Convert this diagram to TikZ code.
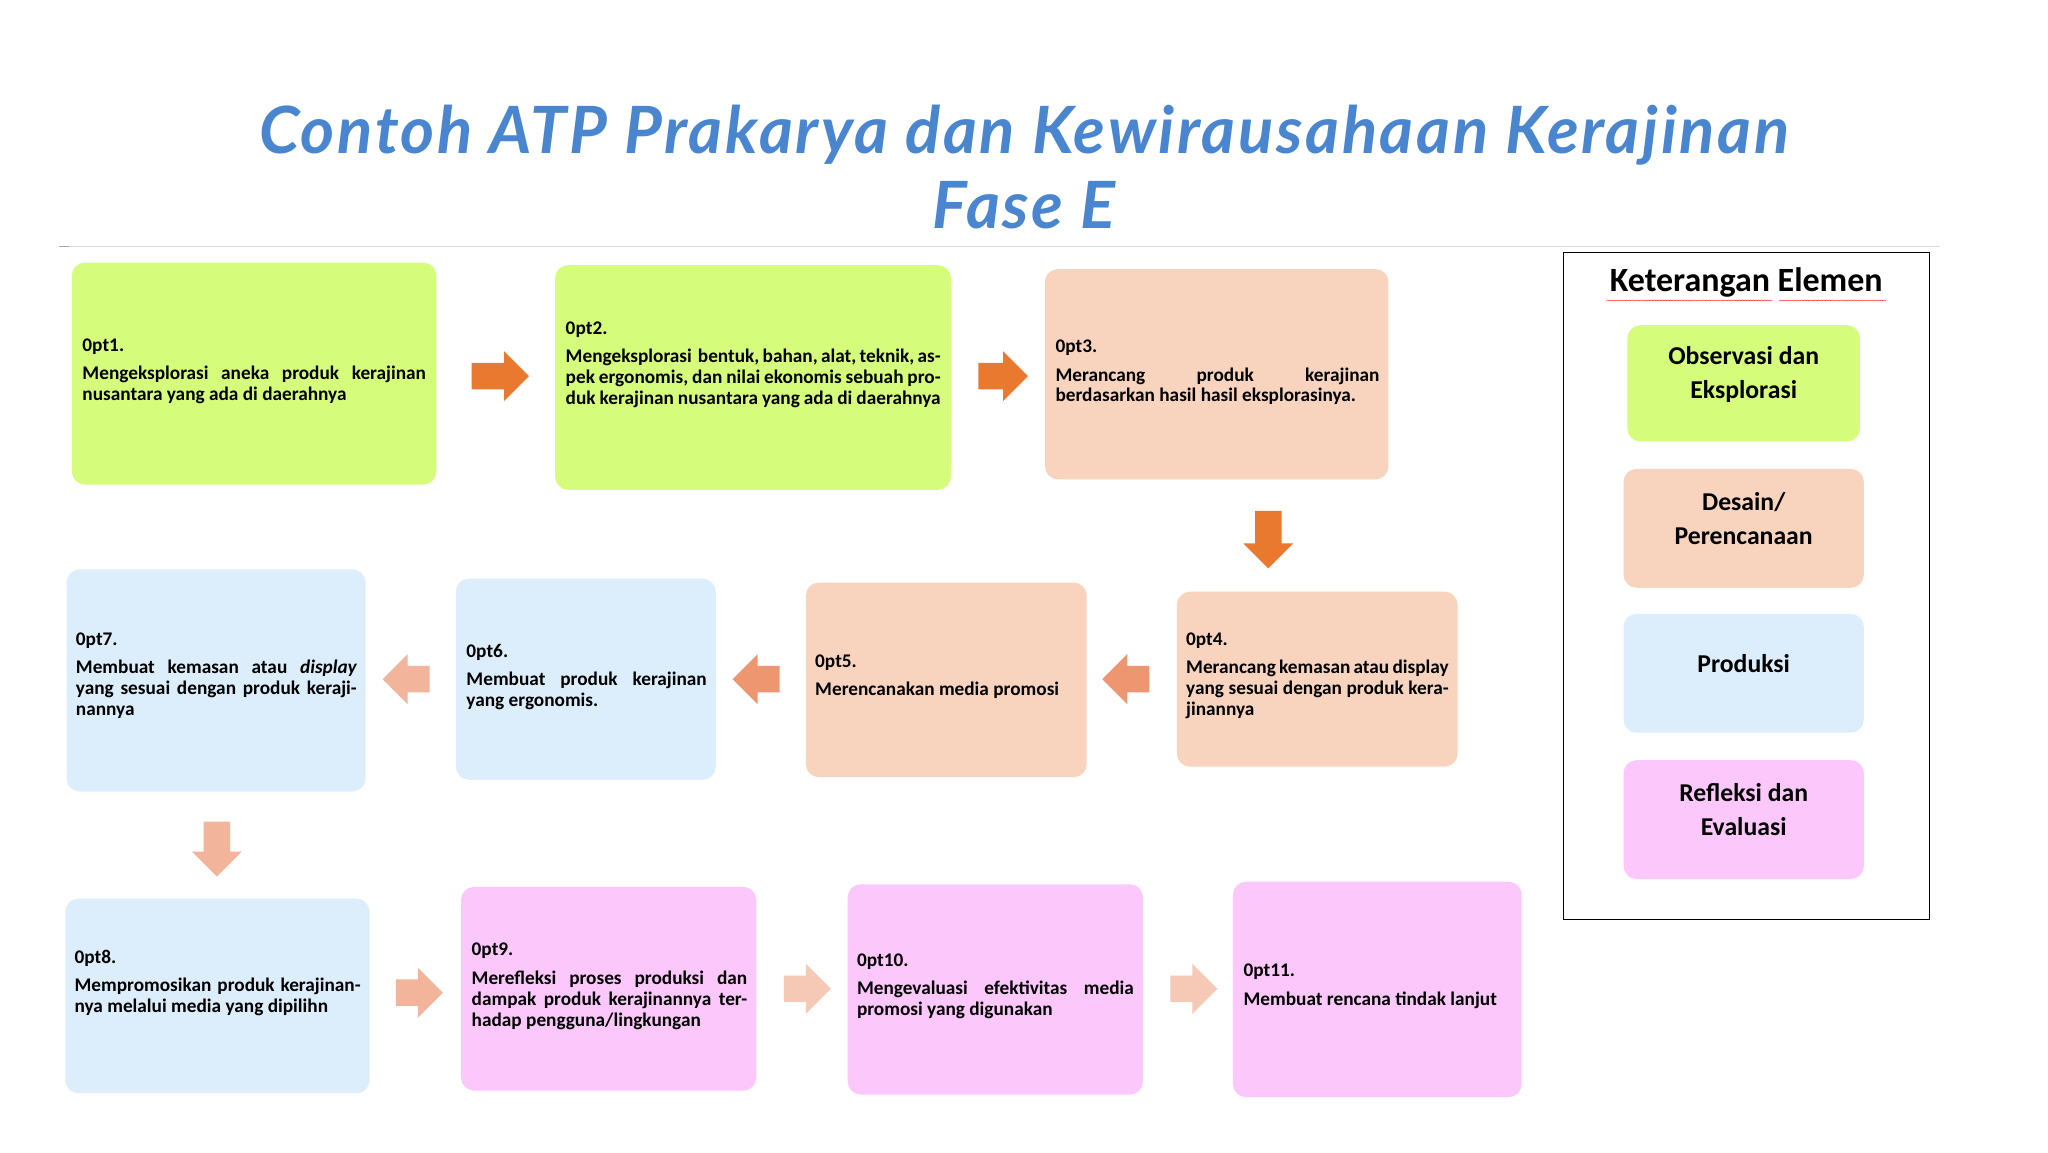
\documentclass[tikz,border=0pt]{standalone}
\usepackage{fontspec}
\setmainfont{Carlito}
\newfontfamily\tfont[LetterSpace=4]{Lato}
\usetikzlibrary{shapes.arrows,decorations.pathmorphing}
\definecolor{cgreen}{HTML}{D6FC7C}
\definecolor{cpeach}{HTML}{F8D4BE}
\definecolor{cblue}{HTML}{DCEEFC}
\definecolor{cpink}{HTML}{FCC8FB}
\definecolor{ctitle}{HTML}{4A86D0}
\definecolor{aone}{HTML}{E8792F}
\definecolor{atwo}{HTML}{EE9670}
\definecolor{athree}{HTML}{F2B49A}
\definecolor{afour}{HTML}{F6C8B6}
\tikzset{
 box/.style={rounded corners=0.5cm},
 btxt/.style={anchor=north west,align=justify,inner sep=0pt,font=\fontsize{21}{22.7}\selectfont\bfseries\hyphenpenalty=10000\exhyphenpenalty=10000},
 leg/.style={rounded corners=0.5cm},
 legtxt/.style={align=center,font=\fontsize{28}{37}\selectfont\bfseries},
 arr/.style={single arrow,draw=none,inner sep=0.5cm,minimum height=2.2cm,single arrow head extend=0.45cm,single arrow tip angle=90}
}
\begin{document}
\begin{tikzpicture}[x=0.05cm,y=-0.05cm]
\useasboundingbox[fill=white] (0,0) rectangle (1568,882);
\node[font=\tfont\fontsize{71}{82}\selectfont\bfseries\itshape,text=ctitle,align=center] (title) at (784,128) {Contoh ATP Prakarya dan Kewirausahaan Kerajinan\\Fase E};
\draw[gray!30,line width=1pt] (45,189) -- (1485,189);
\draw[gray!70,line width=1pt] (45,189) -- (53,189);
% boxes
\fill[box,cgreen] (55,201) rectangle (334,371);
\node (b1) at (194,286) {};
\fill[box,cgreen] (425,203) rectangle (728,375);
\node (b2) at (576,289) {};
\fill[box,cpeach] (800,206) rectangle (1063,367);
\node (b3) at (931,286) {};
\fill[box,cpeach] (901,453) rectangle (1116,587);
\node (b4) at (1008,520) {};
\fill[box,cpeach] (617,446) rectangle (832,595);
\node (b5) at (724,520) {};
\fill[box,cblue] (349,443) rectangle (548,597);
\node (b6) at (448,520) {};
\fill[box,cblue] (51,436) rectangle (280,606);
\node (b7) at (165,521) {};
\fill[box,cblue] (50,688) rectangle (283,837);
\node (b8) at (166,762) {};
\fill[box,cpink] (353,679) rectangle (579,835);
\node (b9) at (466,757) {};
\fill[box,cpink] (649,677) rectangle (875,838);
\node (b10) at (762,757) {};
\fill[box,cpink] (944,675) rectangle (1165,840);
\node (b11) at (1054,757) {};
% texts
\node[btxt,text width=263*0.05cm] (t1) at (63,259) {1.\\[0.3cm]Mengeksplorasi aneka produk kerajinan nusantara yang ada di daerahnya};
\node[btxt,text width=287*0.05cm] (t2) at (433,246) {2.\\[0.3cm]Mengeksplorasi\ \ bentuk, bahan, alat, teknik, aspek ergonomis, dan nilai ekonomis sebuah produk kerajinan nusantara yang ada di daerahnya};
\node[btxt,text width=248*0.05cm] (t3) at (808,260) {3.\\[0.3cm]Merancang produk kerajinan berdasarkan hasil hasil eksplorasinya.};
\node[btxt,text width=201*0.05cm] (t4) at (908,484) {4.\\[0.3cm]Merancang kemasan atau display yang sesuai dengan produk kerajinannya};
\node[btxt,text width=200*0.05cm] (t5) at (624,501) {5.\\[0.3cm]Merencanakan media promosi};
\node[btxt,text width=184*0.05cm] (t6) at (357,493) {6.\\[0.3cm]Membuat produk kerajinan yang ergonomis.};
\node[btxt,text width=215*0.05cm] (t7) at (58,484) {7.\\[0.3cm]Membuat kemasan atau \textit{display} yang sesuai dengan produk kerajinannya};
\node[btxt,text width=219*0.05cm] (t8) at (57,727) {8.\\[0.3cm]Mempromosikan produk kerajinannya melalui media yang dipilihn};
\node[btxt,text width=211*0.05cm] (t9) at (361,722) {9.\\[0.3cm]Merefleksi proses produksi dan dampak produk kerajinannya terhadap pengguna/lingkungan};
\node[btxt,text width=212*0.05cm] (t10) at (656,730) {10.\\[0.3cm]Mengevaluasi efektivitas media promosi yang digunakan};
\node[btxt,text width=210*0.05cm] (t11) at (952,738) {11.\\[0.3cm]Membuat rencana tindak lanjut};
% arrows
\node[arr,fill=aone] (a12) at (378,288) {};
\node[arr,fill=aone,minimum height=1.9cm] (a23) at (763,288) {};
\node[arr,fill=aone,shape border rotate=270,minimum height=2.2cm] (a34) at (971,408) {};
\node[arr,fill=atwo,shape border rotate=180,minimum height=1.8cm] (a45) at (867,520) {};
\node[arr,fill=atwo,shape border rotate=180,minimum height=1.8cm] (a56) at (584,520) {};
\node[arr,fill=athree,shape border rotate=180,minimum height=1.8cm] (a67) at (316,520) {};
\node[arr,fill=athree,shape border rotate=270,minimum height=2.1cm] (a78) at (166,645) {};
\node[arr,fill=athree,minimum height=1.8cm] (a89) at (316,760) {};
\node[arr,fill=afour,minimum height=1.8cm] (a910) at (613,757) {};
\node[arr,fill=afour,minimum height=1.8cm] (a1011) at (909,757) {};
% legend
\draw[line width=1pt] (1197,193) rectangle (1477,704);
\node[font=\fontsize{37}{40}\selectfont\bfseries] (lt) at (1337,216) {Keterangan Elemen};
\draw[red,decorate,decoration={snake,amplitude=0.5pt,segment length=3pt}] (1230,230) -- (1357,230);
\draw[red,decorate,decoration={snake,amplitude=0.5pt,segment length=3pt}] (1362,230) -- (1444,230);
\fill[leg,cgreen] (1246,249) rectangle (1424,338);
\node[legtxt] (l1) at (1335,287) {Observasi dan\\Eksplorasi};
\fill[leg,cpeach] (1243,359) rectangle (1427,450);
\node[legtxt] (l2) at (1335,397) {Desain/\\Perencanaan};
\fill[leg,cblue] (1243,470) rectangle (1427,561);
\node[legtxt] (l3) at (1335,508) {Produksi};
\fill[leg,cpink] (1243,582) rectangle (1427,673);
\node[legtxt] (l4) at (1335,620) {Refleksi dan\\Evaluasi};
\end{tikzpicture}
\end{document}
